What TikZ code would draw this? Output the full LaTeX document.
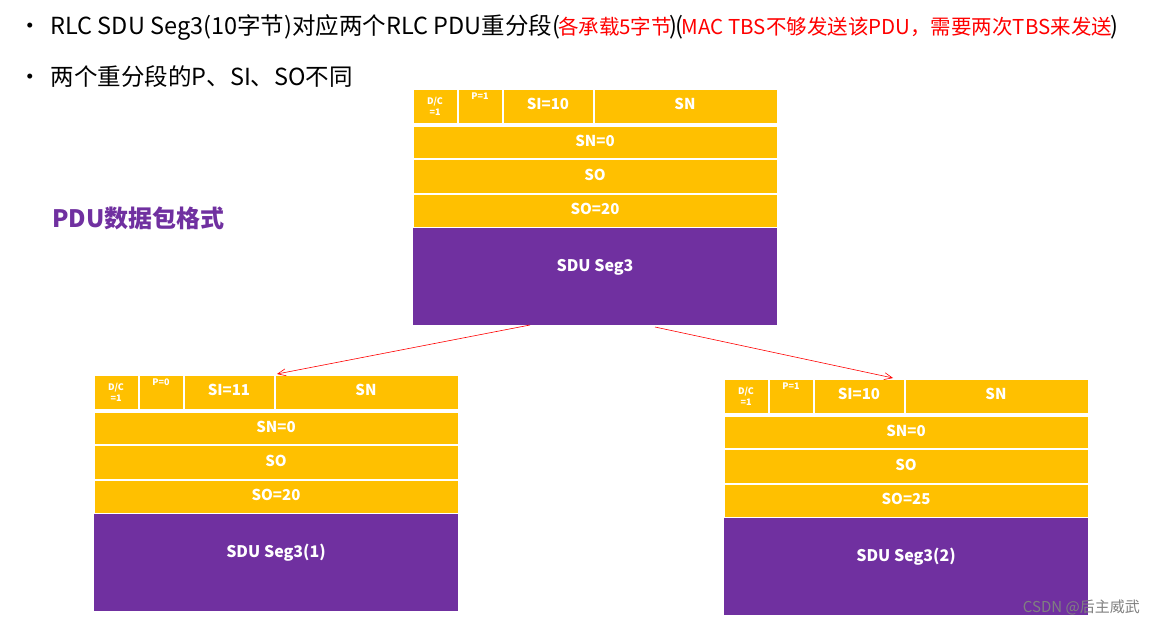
\documentclass[tikz,border=0pt]{standalone}
\usepackage{fontspec}
\setmainfont{Noto Sans CJK SC}
\usetikzlibrary{arrows.meta}
\definecolor{gold}{HTML}{FFC000}
\definecolor{pur}{HTML}{7030A0}
\newcommand{\blk}[7]{%
 \begin{scope}[shift={(#2,#3)}]
  \path[cell] (0,0) rectangle (44,34); \node[small] (#1dc) at (22,17) {D/C\\=1};
  \path[cell] (45,0) rectangle (89,34); \node[small,anchor=north] (#1p) at (67,4) {#4};
  \path[cell] (90,0) rectangle (180,34); \node[txt] (#1si) at (135,15) {#5};
  \path[cell] (181,0) rectangle (364,34); \node[txt] (#1sn) at (272,15) {SN};
  \path[cell] (0,37) rectangle (364,69); \node[txt] (#1sn0) at (182,52) {SN=0};
  \path[cell] (0,70) rectangle (364,104); \node[txt] (#1so) at (182,86) {SO};
  \path[cell] (0,105) rectangle (364,138); \node[txt] (#1so2) at (182,120) {#6};
  \path[body] (0,139) rectangle (364,236); \node[txt,font=\bfseries\fontsize{16}{17}\selectfont] (#1b) at (182,178) {#7};
 \end{scope}}
\begin{document}
\begin{tikzpicture}[x=1pt,y=-1pt,
  cell/.style={fill=gold,draw=white,line width=0.8pt},
  txt/.style={text=white,inner sep=0pt,font=\bfseries\fontsize{15}{16}\selectfont},
  small/.style={txt,font=\bfseries\fontsize{9}{11}\selectfont,align=center},
  body/.style={fill=pur,draw=none},
  arr/.style={red,line width=0.6pt,-{Straight Barb[length=8pt,width=7pt]}}]
\useasboundingbox[fill=white] (0,0) rectangle (1155,627);
\blk{t}{413}{89}{P=1}{SI=10}{SO=20}{SDU Seg3}
\blk{l}{94}{375}{P=0}{SI=11}{SO=20}{SDU Seg3(1)}
\blk{r}{724}{379}{P=1}{SI=10}{SO=25}{SDU Seg3(2)}
\coordinate (a1) at (530,325); \coordinate (a2) at (277,374);
\coordinate (b1) at (655,327); \coordinate (b2) at (893,378);
\draw[arr] (a1) -- (a2);
\draw[arr] (b1) -- (b2);
\node[anchor=west,inner sep=0pt,font=\fontsize{23.5}{25}\selectfont] (bul1) at (18,27) {•\hspace{9pt}RLC SDU Seg3(10字节)对应两个RLC PDU重分段(\hspace{-2pt}{\color{red}\fontsize{20.5}{22}\selectfont 各承载5字节}\hspace{-2pt})\hspace{-2pt}(\hspace{-2pt}{\color{red}\fontsize{20.5}{22}\selectfont MAC TBS不够发送该PDU，需要两次TBS来发送}\hspace{-2pt})};
\node[anchor=west,inner sep=0pt,font=\fontsize{23.5}{25}\selectfont] (bul2) at (18,77) {•\hspace{9pt}两个重分段的P、SI、SO不同};
\node[anchor=west,inner sep=0pt,text=pur,font=\bfseries\fontsize{24}{26}\selectfont] (fmt) at (52,218) {PDU数据包格式};
\node[anchor=east,inner sep=0pt,text=gray,font=\fontsize{15}{16}\selectfont] (wm) at (1140,607) {CSDN @后主威武};
\end{tikzpicture}
\end{document}
